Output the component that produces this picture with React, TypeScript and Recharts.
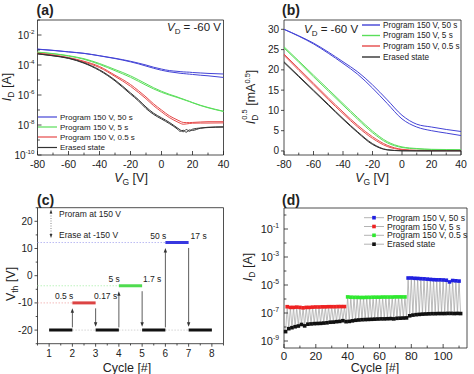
import React from "react";
import {
  ComposedChart,
  LineChart,
  Line,
  Scatter,
  XAxis,
  YAxis,
  ReferenceLine,
  ReferenceArea,
} from "recharts";

const FONT = "'Liberation Sans', Arial, Helvetica, sans-serif";
const INK = "#222";

// (a) transfer curves, log10(I_D / A), forward and reverse sweep
const vgA = [-80, -70, -60, -50, -40, -30, -20, -15, -10, -5, 0, 5, 10, 12, 14, 16, 18, 20, 25, 30, 40];
const logP50Fwd = [-2.94, -3.02, -3.12, -3.22, -3.38, -3.55, -3.75, -3.87, -4.0, -4.15, -4.27, -4.37, -4.42, -4.44, -4.46, -4.47, -4.48, -4.5, -4.53, -4.56, -4.6];
const logP50Rev = [-2.95, -3.03, -3.13, -3.23, -3.39, -3.57, -3.79, -3.92, -4.07, -4.22, -4.35, -4.45, -4.52, -4.55, -4.57, -4.59, -4.61, -4.63, -4.68, -4.72, -4.83];
const logP5Fwd = [-3.14, -3.24, -3.38, -3.58, -3.9, -4.3, -4.72, -4.98, -5.25, -5.52, -5.75, -5.95, -6.12, -6.2, -6.27, -6.35, -6.42, -6.5, -6.68, -6.83, -7.08];
const logP5Rev = [-3.15, -3.25, -3.4, -3.62, -3.96, -4.38, -4.82, -5.08, -5.35, -5.6, -5.82, -6.0, -6.16, -6.23, -6.3, -6.37, -6.44, -6.52, -6.7, -6.85, -7.1];
const logP05Fwd = [-3.21, -3.33, -3.5, -3.75, -4.1, -4.68, -5.3, -5.7, -6.13, -6.6, -7.0, -7.38, -7.65, -7.75, -7.83, -7.84, -7.84, -7.83, -7.8, -7.78, -7.78];
const logP05Rev = [-3.22, -3.35, -3.53, -3.8, -4.17, -4.76, -5.42, -5.82, -6.25, -6.72, -7.12, -7.5, -7.78, -7.88, -7.95, -7.93, -7.9, -7.88, -7.87, -7.87, -7.86];
const logErFwd = [-3.25, -3.38, -3.54, -3.85, -4.32, -5.0, -5.86, -6.3, -6.8, -7.22, -7.52, -7.82, -8.18, -8.32, -8.45, -8.3, -8.42, -8.28, -8.2, -8.15, -8.12];
const logErRev = [-3.26, -3.39, -3.56, -3.88, -4.37, -5.06, -5.94, -6.38, -6.9, -7.3, -7.6, -7.9, -8.25, -8.42, -8.35, -8.48, -8.33, -8.36, -8.22, -8.17, -8.14];

// (b) I_D^0.5 [mA^0.5]
const vgB = [-80, -70, -60, -50, -40, -30, -20, -10, 0, 10, 20, 30, 40];
const sqP50Fwd = [30.0, 28.4, 26.6, 24.4, 22.0, 19.5, 16.3, 12.6, 8.8, 6.6, 5.9, 5.3, 4.8];
const sqP50Rev = [30.0, 28.3, 26.4, 24.1, 21.6, 18.9, 15.5, 11.7, 7.9, 5.9, 5.0, 4.4, 3.8];
const sqP5Fwd = [25.7, 22.2, 18.7, 15.2, 11.7, 8.2, 4.9, 2.3, 1.0, 0.6, 0.4, 0.35, 0.3];
const sqP5Rev = [25.4, 21.9, 18.3, 14.8, 11.3, 7.8, 4.5, 2.0, 0.85, 0.5, 0.35, 0.3, 0.25];
const sqP05Fwd = [23.9, 20.3, 16.7, 13.1, 9.6, 6.3, 3.5, 1.4, 0.4, 0.15, 0.1, 0.1, 0.1];
const sqP05Rev = [23.6, 19.9, 16.3, 12.7, 9.2, 5.9, 3.1, 1.1, 0.3, 0.1, 0.08, 0.08, 0.08];
const sqErFwd = [22.0, 18.5, 15.0, 11.5, 8.0, 4.7, 1.8, 0.3, 0.05, 0.02, 0.02, 0.02, 0.02];
const sqErRev = [21.8, 18.3, 14.8, 11.3, 7.8, 4.5, 1.6, 0.25, 0.04, 0.02, 0.02, 0.02, 0.02];

// (c) threshold voltage per cycle
const cErasedCycles = [1, 3, 5, 7];
const cErasedVth = -20;
const cProgramCycles = [2, 4, 6];
const cProgramVth = [-10, -3.7, 12.2];
const cProgramTimes = ["0.5 s", "5 s", "50 s"];
const cEraseTimes = ["0.17 s", "1.7 s", "17 s"];

// (d) endurance, log10(I_D / A)
const dErasedLog = [
  -8.33, -8.12, -8.05, -7.98, -7.93, -7.82, -7.92, -7.8, -7.78, -7.76, -7.75, -7.74, -7.72, -7.7, -7.66, -7.65, -7.62, -7.6, -7.55, -7.62,
  -7.6, -7.56, -7.52, -7.5, -7.48, -7.47, -7.46, -7.45, -7.44, -7.43, -7.42, -7.42, -7.41, -7.4, -7.42, -7.38, -7.37, -7.36, -7.35,
  -7.2, -7.15, -7.12, -7.1, -7.08, -7.07, -7.06, -7.05, -7.05, -7.04, -7.04, -7.04, -7.03, -7.03, -7.04, -7.03, -7.04,
];
const dRedLog = [-6.55, -6.6, -6.6, -6.58, -6.6, -6.63, -6.6, -6.6, -6.58, -6.57, -6.57, -6.56, -6.56, -6.55, -6.55, -6.55, -6.54, -6.54, -6.54];
const dGreenLog = [-5.85, -5.87, -5.88, -5.88, -5.89, -5.89, -5.88, -5.88, -5.87, -5.87, -5.87, -5.86, -5.86, -5.86, -5.86, -5.85, -5.85, -5.85, -5.85];
const dBlueLog = [-4.5, -4.5, -4.52, -4.53, -4.55, -4.56, -4.58, -4.6, -4.62, -4.63, -4.63, -4.64, -4.66, -4.78, -4.68, -4.7, -4.72];
const dRedStart = 2;
const dGreenStart = 40;
const dBlueStart = 78;

const BLUE = "#4343d6";
const GREEN = "#5ade5a";
const RED = "#e64a4a";
const BLACK = "#333";

type TickCfg = {
  bottom?: boolean;
  inward?: boolean;
  len: number;
  fs: number;
  gap: number;
  show: (v: number) => boolean;
  fmt?: (v: number) => React.ReactNode;
};

function tickRenderer(c: TickCfg) {
  return (p: any) => {
    const v = Number(p.payload.value);
    const on = c.show(v);
    const len = on ? c.len : c.len * 0.6;
    const dir = c.inward ? -1 : 1;
    const label = c.fmt ? c.fmt(v) : String(v);
    if (c.bottom) {
      return (
        <g>
          <line x1={p.x} y1={p.y} x2={p.x} y2={p.y + dir * len} stroke={INK} strokeWidth={0.8} />
          {on && (
            <text x={p.x} y={p.y + c.gap} textAnchor="middle" fontSize={c.fs} fontFamily={FONT} fill={INK}>
              {label}
            </text>
          )}
        </g>
      );
    }
    return (
      <g>
        <line x1={p.x} y1={p.y} x2={p.x - dir * len} y2={p.y} stroke={INK} strokeWidth={0.8} />
        {on && (
          <text x={p.x - c.gap} y={p.y} dy="0.35em" textAnchor="end" fontSize={c.fs} fontFamily={FONT} fill={INK}>
            {label}
          </text>
        )}
      </g>
    );
  };
}

const pow10 = (v: number) => {
  const e = Math.round(Math.log10(v));
  return (
    <>
      <tspan>10</tspan>
      <tspan dy={-4.5} fontSize="0.62em">
        {e}
      </tspan>
    </>
  );
};
const expOf = (v: number) => Math.round(Math.log10(v));

const axisCommon = { axisLine: false, tickLine: false, tickSize: 0, tickMargin: 0, interval: 0 as const };

function PanelA() {
  const data = vgA.map((vg, k) => ({
    vg,
    p50f: 10 ** logP50Fwd[k],
    p50r: 10 ** logP50Rev[k],
    p5f: 10 ** logP5Fwd[k],
    p5r: 10 ** logP5Rev[k],
    p05f: 10 ** logP05Fwd[k],
    p05r: 10 ** logP05Rev[k],
    erf: 10 ** logErFwd[k],
    err: 10 ** logErRev[k],
  }));
  const series: [string, string][] = [
    ["p50f", BLUE], ["p50r", BLUE], ["p5f", GREEN], ["p5r", GREEN],
    ["p05f", RED], ["p05r", RED], ["erf", BLACK], ["err", BLACK],
  ];
  return (
    <LineChart width={237} height={187} data={data} margin={{ top: 20, right: 13.5, bottom: 0, left: 0 }}>
      <XAxis
        dataKey="vg"
        type="number"
        domain={[-80, 40]}
        ticks={[-80, -70, -60, -50, -40, -30, -20, -10, 0, 10, 20, 30, 40]}
        height={32}
        {...axisCommon}
        tick={tickRenderer({ bottom: true, inward: true, len: 4, fs: 10.5, gap: 12.8, show: (v) => v % 20 === 0 })}
      />
      <YAxis
        type="number"
        scale="log"
        domain={[1e-10, 1e-1]}
        allowDataOverflow
        ticks={[1e-10, 1e-9, 1e-8, 1e-7, 1e-6, 1e-5, 1e-4, 1e-3, 1e-2, 1e-1]}
        width={37.5}
        {...axisCommon}
        tick={tickRenderer({ inward: true, len: 4, fs: 10, gap: 3, show: (v) => expOf(v) % 2 === 0 && expOf(v) < -1, fmt: pow10 })}
      />
      <ReferenceArea x1={-80} x2={40} y1={1e-10} y2={1e-1} fill="none" stroke={INK} strokeWidth={0.8} ifOverflow="visible" />
      {series.map(([k, c]) => (
        <Line key={k} dataKey={k} type="monotone" stroke={c} strokeWidth={1} dot={false} isAnimationActive={false} />
      ))}
    </LineChart>
  );
}

function PanelB() {
  const data = vgB.map((vg, k) => ({
    vg,
    p50f: sqP50Fwd[k],
    p50r: sqP50Rev[k],
    p5f: sqP5Fwd[k],
    p5r: sqP5Rev[k],
    p05f: sqP05Fwd[k],
    p05r: sqP05Rev[k],
    erf: sqErFwd[k],
    err: sqErRev[k],
  }));
  const series: [string, string][] = [
    ["p50f", BLUE], ["p50r", BLUE], ["p5f", GREEN], ["p5r", GREEN],
    ["p05f", RED], ["p05r", RED], ["erf", BLACK], ["err", BLACK],
  ];
  return (
    <LineChart width={237} height={187} data={data} margin={{ top: 20, right: 13, bottom: 0, left: 0 }}>
      <XAxis
        dataKey="vg"
        type="number"
        domain={[-80, 40]}
        ticks={[-80, -70, -60, -50, -40, -30, -20, -10, 0, 10, 20, 30, 40]}
        height={32}
        {...axisCommon}
        tick={tickRenderer({ bottom: true, inward: true, len: 4, fs: 10.5, gap: 12.8, show: (v) => v % 20 === 0 })}
      />
      <YAxis
        type="number"
        domain={[-1, 32.3]}
        allowDataOverflow
        ticks={[0, 5, 10, 15, 20, 25, 30]}
        width={47}
        {...axisCommon}
        tick={tickRenderer({ len: 3, fs: 10, gap: 5, show: () => true })}
      />
      <ReferenceArea x1={-80} x2={40} y1={-1} y2={32.3} fill="none" stroke={INK} strokeWidth={0.8} ifOverflow="visible" />
      {series.map(([k, c]) => (
        <Line key={k} dataKey={k} type="monotone" stroke={c} strokeWidth={1} dot={false} isAnimationActive={false} />
      ))}
    </LineChart>
  );
}

const arrowShape = (p: any) => {
  const { x1, y1, x2, y2 } = p;
  const d = y2 > y1 ? 1 : -1;
  return (
    <g>
      <line x1={x1} y1={y1} x2={x2} y2={y2 - d * 3} stroke="#333" strokeWidth={0.8} />
      <path d={`M${x2},${y2} L${x2 - 1.7},${y2 - d * 4.5} L${x2 + 1.7},${y2 - d * 4.5} Z`} fill="#333" />
    </g>
  );
};

const barShape = (color: string, left: string, right: string) => (p: any) => (
  <g>
    <line x1={p.x1} y1={p.y1} x2={p.x2} y2={p.y2} stroke={color} strokeWidth={3} />
    <text x={p.x1 + 1} y={p.y1 - 3.5} textAnchor="end" fontSize={8.5} fontFamily={FONT} fill={INK}>
      {left}
    </text>
    <text x={p.x2 + 10} y={p.y1 - 3.5} textAnchor="middle" fontSize={8.5} fontFamily={FONT} fill={INK}>
      {right}
    </text>
  </g>
);

function PanelC() {
  const bars = cErasedCycles.flatMap((c) => [
    { x: c, v: cErasedVth },
    { x: c + 1, v: cErasedVth },
    { x: c + 1, v: null },
  ]);
  const barColors = ["#dc4444", "#4fdc4f", "#3838e0"];
  const guideColors = ["#f2b4b4", "#b8f0b8", "#b4b4f2"];
  return (
    <ComposedChart width={237} height={187} data={bars} margin={{ top: 20.7, right: 13.5, bottom: 0, left: 0 }}>
      <XAxis
        dataKey="x"
        type="number"
        domain={[0.5, 8.5]}
        ticks={[0.5, 1, 1.5, 2, 2.5, 3, 3.5, 4, 4.5, 5, 5.5, 6, 6.5, 7, 7.5, 8, 8.5]}
        height={30.3}
        {...axisCommon}
        tick={tickRenderer({ bottom: true, len: 3, fs: 10, gap: 13, show: (v) => Number.isInteger(v) })}
      />
      <YAxis
        type="number"
        domain={[-25, 25]}
        allowDataOverflow
        ticks={[-25, -20, -15, -10, -5, 0, 5, 10, 15, 20, 25]}
        width={37.5}
        {...axisCommon}
        tick={tickRenderer({ len: 3, fs: 10, gap: 5, show: (v) => v % 10 === 0 })}
      />
      <ReferenceArea x1={0.5} x2={8.5} y1={-25} y2={25} fill="none" stroke={INK} strokeWidth={0.8} ifOverflow="visible" />
      {cProgramCycles.map((c, k) => (
        <ReferenceLine
          key={`g${c}`}
          segment={[{ x: 0.5, y: cProgramVth[k] }, { x: c, y: cProgramVth[k] }]}
          stroke={guideColors[k]}
          strokeWidth={0.9}
          strokeDasharray="1.5 1.5"
        />
      ))}
      {cProgramCycles.map((c) => (
        <ReferenceLine
          key={`e${c}`}
          segment={[{ x: c, y: cErasedVth }, { x: c + 1, y: cErasedVth }]}
          stroke="#cfcfcf"
          strokeWidth={0.9}
          strokeDasharray="1.5 1.5"
        />
      ))}
      <Line dataKey="v" type="linear" stroke="#111" strokeWidth={3} dot={false} connectNulls={false} isAnimationActive={false} />
      {cProgramCycles.map((c, k) => (
        <ReferenceLine
          key={`b${c}`}
          segment={[{ x: c, y: cProgramVth[k] }, { x: c + 1, y: cProgramVth[k] }]}
          shape={barShape(barColors[k], cProgramTimes[k], cEraseTimes[k])}
        />
      ))}
      {cProgramCycles.map((c, k) => (
        <ReferenceLine
          key={`u${c}`}
          segment={[{ x: c, y: cErasedVth + 1 }, { x: c, y: cProgramVth[k] - 2 }]}
          shape={arrowShape}
        />
      ))}
      {cProgramCycles.map((c, k) => (
        <ReferenceLine
          key={`d${c}`}
          segment={[{ x: c + 1, y: cProgramVth[k] - 2 }, { x: c + 1, y: cErasedVth + 1.2 }]}
          shape={arrowShape}
        />
      ))}
    </ComposedChart>
  );
}

const square = (color: string) => (p: any) => (
  <rect x={p.cx - 1.8} y={p.cy - 1.8} width={3.6} height={3.6} fill={color} />
);

function PanelD() {
  const erased = dErasedLog.map((e, k) => ({ cycle: 1 + 2 * k, i: 10 ** e }));
  const prog = (arr: number[], start: number) => arr.map((e, k) => ({ cycle: start + 2 * k, i: 10 ** e }));
  const red = prog(dRedLog, dRedStart);
  const green = prog(dGreenLog, dGreenStart);
  const blue = prog(dBlueLog, dBlueStart);
  const zig = [...erased, ...red, ...green, ...blue].sort((a, b) => a.cycle - b.cycle);
  const yMin = 10 ** -9.5;
  const yMax = 10 ** 0.5;
  return (
    <ComposedChart width={237} height={187} data={zig} margin={{ top: 21, right: 7, bottom: 0, left: 0 }}>
      <XAxis
        dataKey="cycle"
        type="number"
        domain={[0, 115]}
        ticks={[0, 10, 20, 30, 40, 50, 60, 70, 80, 90, 100, 110]}
        height={26}
        {...axisCommon}
        tick={tickRenderer({ bottom: true, inward: true, len: 4, fs: 11.5, gap: 11.5, show: (v) => v % 20 === 0 })}
      />
      <YAxis
        dataKey="i"
        type="number"
        scale="log"
        domain={[yMin, yMax]}
        allowDataOverflow
        ticks={[1e-9, 1e-8, 1e-7, 1e-6, 1e-5, 1e-4, 1e-3, 1e-2, 1e-1, 1]}
        width={47}
        {...axisCommon}
        tick={tickRenderer({ inward: true, len: 4, fs: 11, gap: 5, show: (v) => Math.abs(expOf(v)) % 2 === 1, fmt: pow10 })}
      />
      <ReferenceArea x1={0} x2={115} y1={yMin} y2={yMax} fill="none" stroke={INK} strokeWidth={0.8} ifOverflow="visible" />
      <Line dataKey="i" type="linear" stroke="#a0a0a0" strokeWidth={0.7} dot={false} isAnimationActive={false} />
      <Scatter data={erased} dataKey="i" shape={square("#111")} isAnimationActive={false} />
      <Scatter data={red} dataKey="i" shape={square("#ee2222")} isAnimationActive={false} />
      <Scatter data={green} dataKey="i" shape={square("#2fe82f")} isAnimationActive={false} />
      <Scatter data={blue} dataKey="i" shape={square("#2020e0")} isAnimationActive={false} />
    </ComposedChart>
  );
}

const T = (props: any) => <text fontFamily={FONT} fill={INK} {...props} />;

function Overlay() {
  const legA: [string, string][] = [
    ["Program 150 V, 50 s", BLUE],
    ["Program 150 V, 5 s", GREEN],
    ["Program 150 V, 0.5 s", RED],
    ["Erased state", BLACK],
  ];
  const legD: [string, string][] = [
    ["Program 150 V, 50 s", "#2020e0"],
    ["Program 150 V, 5 s", "#ee2222"],
    ["Program 150 V, 0.5 s", "#2fe82f"],
    ["Erased state", "#111"],
  ];
  const rowsA = [117, 127, 137, 147.5];
  const rowsB = [25, 35.5, 46, 57];
  const rowsD = [217.7, 226.5, 235.3, 244.2];
  return (
    <svg width={474} height={374} style={{ position: "absolute", left: 0, top: 0, pointerEvents: "none" }}>
      <T x={36.5} y={15} fontSize={14} fontWeight="bold">(a)</T>
      <T x={282} y={15} fontSize={14} fontWeight="bold">(b)</T>
      <T x={37} y={205} fontSize={14} fontWeight="bold">(c)</T>
      <T x={282} y={205} fontSize={14} fontWeight="bold">(d)</T>

      <T x={221} y={31} fontSize={11.5} textAnchor="end">
        <tspan fontStyle="italic">V</tspan>
        <tspan fontSize={8} dy={3}>D</tspan>
        <tspan dy={-3}> = -60 V</tspan>
      </T>
      <T x={304} y={33} fontSize={11.5}>
        <tspan fontStyle="italic">V</tspan>
        <tspan fontSize={8} dy={3}>D</tspan>
        <tspan dy={-3}> = -60 V</tspan>
      </T>

      <T x={131} y={182} fontSize={12.5} textAnchor="middle">
        <tspan fontStyle="italic">V</tspan>
        <tspan fontSize={8.5} dy={3}>G</tspan>
        <tspan dy={-3}> [V]</tspan>
      </T>
      <T x={372} y={182} fontSize={12.5} textAnchor="middle">
        <tspan fontStyle="italic">V</tspan>
        <tspan fontSize={8.5} dy={3}>G</tspan>
        <tspan dy={-3}> [V]</tspan>
      </T>
      <T x={127} y={371.5} fontSize={12.5} textAnchor="middle">Cycle [#]</T>
      <T x={375} y={372} fontSize={12.5} textAnchor="middle">Cycle [#]</T>

      <T transform="translate(11,87) rotate(-90)" fontSize={12.5} textAnchor="middle">
        <tspan fontStyle="italic">I</tspan>
        <tspan fontSize={8.5} dy={3}>D</tspan>
        <tspan dy={-3}> [A]</tspan>
      </T>
      <T transform="translate(255,97) rotate(-90)" fontSize={12.5} textAnchor="middle">
        <tspan fontStyle="italic">I</tspan>
        <tspan fontSize={8.5} dy={3}>D</tspan>
        <tspan fontSize={7.5} dx={-5} dy={-11}>0.5</tspan>
        <tspan dy={8}> [mA</tspan>
        <tspan fontSize={7.5} dy={-5}>0.5</tspan>
        <tspan dy={5}>]</tspan>
      </T>
      <T transform="translate(15,284) rotate(-90)" fontSize={12.5} textAnchor="middle">
        <tspan>V</tspan>
        <tspan fontSize={8.5} dy={3}>th</tspan>
        <tspan dy={-3}> [V]</tspan>
      </T>
      <T transform="translate(252,267) rotate(-90)" fontSize={12.5} textAnchor="middle">
        <tspan fontStyle="italic">I</tspan>
        <tspan fontSize={8.5} dy={3}>D</tspan>
        <tspan dy={-3}> [A]</tspan>
      </T>

      {legA.map(([t, c], k) => (
        <g key={`la${k}`}>
          <line x1={38} x2={57} y1={rowsA[k]} y2={rowsA[k]} stroke={c} strokeWidth={1.2} />
          <T x={60} y={rowsA[k] + 2.8} fontSize={8}>{t}</T>
        </g>
      ))}
      {legA.map(([t, c], k) => (
        <g key={`lb${k}`}>
          <line x1={362} x2={380} y1={rowsB[k]} y2={rowsB[k]} stroke={c} strokeWidth={1.4} />
          <T x={383} y={rowsB[k] + 2.9} fontSize={8.2}>{t}</T>
        </g>
      ))}
      {legD.map(([t, c], k) => (
        <g key={`ld${k}`}>
          <line x1={364} x2={384} y1={rowsD[k]} y2={rowsD[k]} stroke="#a0a0a0" strokeWidth={0.8} />
          <rect x={372.2} y={rowsD[k] - 1.8} width={3.6} height={3.6} fill={c} />
          <T x={387} y={rowsD[k] + 3} fontSize={8.6}>{t}</T>
        </g>
      ))}

      <line x1={51} x2={51} y1={213} y2={234} stroke="#555" strokeWidth={0.7} strokeDasharray="1 1.5" />
      <path d="M51,209.5 L49.6,213.5 L52.4,213.5 Z" fill="#333" />
      <path d="M51,238 L49.6,234 L52.4,234 Z" fill="#333" />
      <T x={59} y={216.7} fontSize={8.5}>Proram at 150 V</T>
      <T x={59} y={238.3} fontSize={8.5}>Erase at -150 V</T>
    </svg>
  );
}

export default function App() {
  return (
    <div style={{ position: "absolute", left: 0, top: 0, width: 474, height: 374, background: "#fff", fontFamily: FONT }}>
      <div style={{ position: "absolute", left: 0, top: 0 }}>
        <PanelA />
      </div>
      <div style={{ position: "absolute", left: 237, top: 0 }}>
        <PanelB />
      </div>
      <div style={{ position: "absolute", left: 0, top: 187 }}>
        <PanelC />
      </div>
      <div style={{ position: "absolute", left: 237, top: 187 }}>
        <PanelD />
      </div>
      <Overlay />
    </div>
  );
}
